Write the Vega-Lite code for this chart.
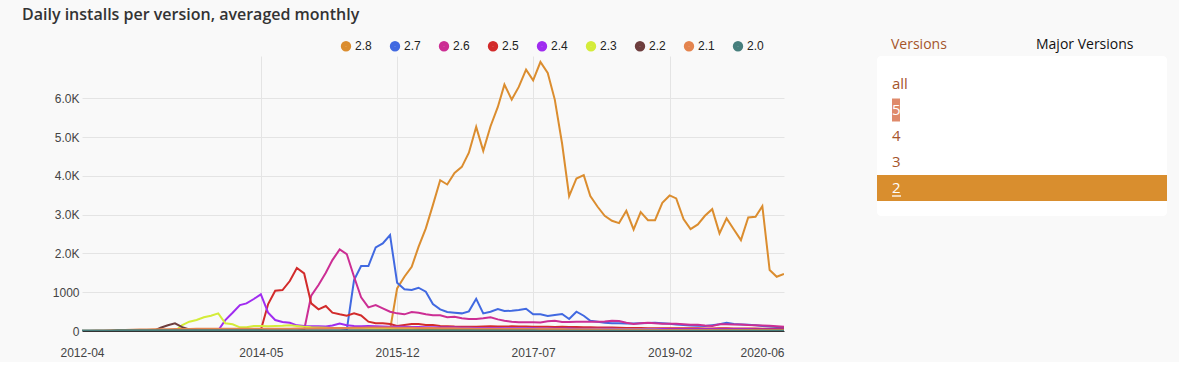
{
"$schema":"https://vega.github.io/schema/vega-lite/v6.json",
"background":"#f9f9f9",
"padding":{"left":22,"top":7,"right":12,"bottom":4},
"title":{"text":"Daily installs per version, averaged monthly","anchor":"start","font":"Open Sans","fontSize":16,"fontWeight":600,"color":"#333333","offset":14},
"datasets":{"installs":[
{"t":"2012-04-01","2.8":0,"2.7":0,"2.6":0,"2.5":0,"2.4":0,"2.3":0,"2.2":0,"2.1":5,"2.0":12},
{"t":"2012-05-01","2.8":0,"2.7":0,"2.6":0,"2.5":0,"2.4":0,"2.3":0,"2.2":0,"2.1":8,"2.0":13},
{"t":"2012-06-01","2.8":0,"2.7":0,"2.6":0,"2.5":0,"2.4":0,"2.3":0,"2.2":0,"2.1":12,"2.0":14},
{"t":"2012-07-01","2.8":0,"2.7":0,"2.6":0,"2.5":0,"2.4":0,"2.3":0,"2.2":0,"2.1":15,"2.0":15},
{"t":"2012-08-01","2.8":0,"2.7":0,"2.6":0,"2.5":0,"2.4":0,"2.3":0,"2.2":0,"2.1":20,"2.0":16},
{"t":"2012-09-01","2.8":0,"2.7":0,"2.6":0,"2.5":0,"2.4":0,"2.3":0,"2.2":0,"2.1":24,"2.0":17},
{"t":"2012-10-01","2.8":0,"2.7":0,"2.6":0,"2.5":0,"2.4":0,"2.3":0,"2.2":0,"2.1":28,"2.0":18},
{"t":"2012-11-01","2.8":0,"2.7":0,"2.6":0,"2.5":0,"2.4":0,"2.3":0,"2.2":0,"2.1":32,"2.0":18},
{"t":"2012-12-01","2.8":0,"2.7":0,"2.6":0,"2.5":0,"2.4":0,"2.3":0,"2.2":0,"2.1":36,"2.0":19},
{"t":"2013-01-01","2.8":0,"2.7":0,"2.6":0,"2.5":0,"2.4":0,"2.3":0,"2.2":0,"2.1":40,"2.0":19},
{"t":"2013-02-01","2.8":0,"2.7":0,"2.6":0,"2.5":0,"2.4":0,"2.3":0,"2.2":10,"2.1":42,"2.0":20},
{"t":"2013-03-01","2.8":0,"2.7":0,"2.6":0,"2.5":0,"2.4":0,"2.3":0,"2.2":85,"2.1":45,"2.0":20},
{"t":"2013-04-01","2.8":0,"2.7":0,"2.6":0,"2.5":0,"2.4":0,"2.3":0,"2.2":150,"2.1":48,"2.0":20},
{"t":"2013-05-01","2.8":0,"2.7":0,"2.6":0,"2.5":0,"2.4":0,"2.3":0,"2.2":200,"2.1":50,"2.0":20},
{"t":"2013-06-01","2.8":0,"2.7":0,"2.6":0,"2.5":0,"2.4":0,"2.3":155,"2.2":100,"2.1":52,"2.0":20},
{"t":"2013-07-01","2.8":0,"2.7":0,"2.6":0,"2.5":0,"2.4":0,"2.3":240,"2.2":40,"2.1":54,"2.0":20},
{"t":"2013-08-01","2.8":0,"2.7":0,"2.6":0,"2.5":0,"2.4":0,"2.3":283,"2.2":25,"2.1":55,"2.0":19},
{"t":"2013-09-01","2.8":0,"2.7":0,"2.6":0,"2.5":0,"2.4":0,"2.3":353,"2.2":20,"2.1":56,"2.0":19},
{"t":"2013-10-01","2.8":0,"2.7":0,"2.6":0,"2.5":0,"2.4":0,"2.3":395,"2.2":18,"2.1":57,"2.0":19},
{"t":"2013-11-01","2.8":0,"2.7":0,"2.6":0,"2.5":0,"2.4":20,"2.3":455,"2.2":17,"2.1":58,"2.0":18},
{"t":"2013-12-01","2.8":0,"2.7":0,"2.6":0,"2.5":0,"2.4":280,"2.3":198,"2.2":15,"2.1":58,"2.0":18},
{"t":"2014-01-01","2.8":0,"2.7":0,"2.6":0,"2.5":0,"2.4":470,"2.3":172,"2.2":15,"2.1":58,"2.0":18},
{"t":"2014-02-01","2.8":0,"2.7":0,"2.6":0,"2.5":0,"2.4":670,"2.3":95,"2.2":15,"2.1":57,"2.0":18},
{"t":"2014-03-01","2.8":0,"2.7":0,"2.6":0,"2.5":0,"2.4":713,"2.3":95,"2.2":15,"2.1":56,"2.0":17},
{"t":"2014-04-01","2.8":0,"2.7":0,"2.6":0,"2.5":0,"2.4":825,"2.3":129,"2.2":15,"2.1":55,"2.0":17},
{"t":"2014-05-01","2.8":0,"2.7":0,"2.6":0,"2.5":25,"2.4":945,"2.3":130,"2.2":15,"2.1":55,"2.0":17},
{"t":"2014-06-01","2.8":0,"2.7":0,"2.6":0,"2.5":695,"2.4":470,"2.3":125,"2.2":15,"2.1":56,"2.0":16},
{"t":"2014-07-01","2.8":0,"2.7":0,"2.6":0,"2.5":1040,"2.4":283,"2.3":130,"2.2":15,"2.1":57,"2.0":16},
{"t":"2014-08-01","2.8":0,"2.7":0,"2.6":0,"2.5":1057,"2.4":232,"2.3":135,"2.2":15,"2.1":58,"2.0":16},
{"t":"2014-09-01","2.8":0,"2.7":0,"2.6":0,"2.5":1289,"2.4":214,"2.3":146,"2.2":15,"2.1":60,"2.0":16},
{"t":"2014-10-01","2.8":0,"2.7":0,"2.6":0,"2.5":1624,"2.4":146,"2.3":130,"2.2":15,"2.1":62,"2.0":15},
{"t":"2014-11-01","2.8":0,"2.7":0,"2.6":25,"2.5":1486,"2.4":130,"2.3":110,"2.2":15,"2.1":64,"2.0":15},
{"t":"2014-12-01","2.8":0,"2.7":0,"2.6":910,"2.5":713,"2.4":125,"2.3":95,"2.2":15,"2.1":66,"2.0":15},
{"t":"2015-01-01","2.8":0,"2.7":0,"2.6":1185,"2.5":558,"2.4":120,"2.3":90,"2.2":15,"2.1":70,"2.0":15},
{"t":"2015-02-01","2.8":0,"2.7":0,"2.6":1503,"2.5":644,"2.4":118,"2.3":85,"2.2":15,"2.1":72,"2.0":15},
{"t":"2015-03-01","2.8":0,"2.7":0,"2.6":1830,"2.5":472,"2.4":140,"2.3":80,"2.2":15,"2.1":75,"2.0":14},
{"t":"2015-04-01","2.8":0,"2.7":0,"2.6":2105,"2.5":430,"2.4":190,"2.3":78,"2.2":15,"2.1":78,"2.0":14},
{"t":"2015-05-01","2.8":0,"2.7":25,"2.6":1985,"2.5":395,"2.4":150,"2.3":75,"2.2":15,"2.1":80,"2.0":14},
{"t":"2015-06-01","2.8":0,"2.7":1315,"2.6":1400,"2.5":455,"2.4":130,"2.3":70,"2.2":15,"2.1":82,"2.0":14},
{"t":"2015-07-01","2.8":0,"2.7":1675,"2.6":870,"2.5":400,"2.4":125,"2.3":68,"2.2":15,"2.1":85,"2.0":14},
{"t":"2015-08-01","2.8":0,"2.7":1675,"2.6":610,"2.5":240,"2.4":128,"2.3":66,"2.2":15,"2.1":88,"2.0":13},
{"t":"2015-09-01","2.8":0,"2.7":2157,"2.6":670,"2.5":198,"2.4":120,"2.3":64,"2.2":12,"2.1":90,"2.0":13},
{"t":"2015-10-01","2.8":0,"2.7":2260,"2.6":585,"2.5":198,"2.4":115,"2.3":62,"2.2":12,"2.1":90,"2.0":13},
{"t":"2015-11-01","2.8":25,"2.7":2474,"2.6":497,"2.5":180,"2.4":112,"2.3":60,"2.2":12,"2.1":88,"2.0":13},
{"t":"2015-12-01","2.8":1100,"2.7":1245,"2.6":455,"2.5":130,"2.4":110,"2.3":58,"2.2":12,"2.1":86,"2.0":13},
{"t":"2016-01-01","2.8":1400,"2.7":1075,"2.6":430,"2.5":155,"2.4":108,"2.3":56,"2.2":12,"2.1":85,"2.0":13},
{"t":"2016-02-01","2.8":1657,"2.7":1057,"2.6":490,"2.5":180,"2.4":105,"2.3":55,"2.2":12,"2.1":83,"2.0":12},
{"t":"2016-03-01","2.8":2170,"2.7":1116,"2.6":472,"2.5":180,"2.4":100,"2.3":54,"2.2":12,"2.1":80,"2.0":12},
{"t":"2016-04-01","2.8":2647,"2.7":1013,"2.6":430,"2.5":155,"2.4":98,"2.3":52,"2.2":12,"2.1":78,"2.0":12},
{"t":"2016-05-01","2.8":3247,"2.7":696,"2.6":405,"2.5":155,"2.4":95,"2.3":50,"2.2":12,"2.1":75,"2.0":12},
{"t":"2016-06-01","2.8":3890,"2.7":559,"2.6":405,"2.5":130,"2.4":92,"2.3":49,"2.2":12,"2.1":72,"2.0":12},
{"t":"2016-07-01","2.8":3780,"2.7":490,"2.6":353,"2.5":125,"2.4":90,"2.3":48,"2.2":12,"2.1":70,"2.0":12},
{"t":"2016-08-01","2.8":4080,"2.7":472,"2.6":370,"2.5":115,"2.4":88,"2.3":47,"2.2":12,"2.1":68,"2.0":12},
{"t":"2016-09-01","2.8":4235,"2.7":455,"2.6":327,"2.5":110,"2.4":85,"2.3":46,"2.2":12,"2.1":65,"2.0":11},
{"t":"2016-10-01","2.8":4600,"2.7":507,"2.6":310,"2.5":108,"2.4":82,"2.3":45,"2.2":12,"2.1":62,"2.0":11},
{"t":"2016-11-01","2.8":5265,"2.7":830,"2.6":310,"2.5":110,"2.4":80,"2.3":44,"2.2":12,"2.1":60,"2.0":11},
{"t":"2016-12-01","2.8":4647,"2.7":455,"2.6":327,"2.5":115,"2.4":78,"2.3":43,"2.2":12,"2.1":58,"2.0":11},
{"t":"2017-01-01","2.8":5283,"2.7":497,"2.6":353,"2.5":120,"2.4":76,"2.3":42,"2.2":12,"2.1":56,"2.0":11},
{"t":"2017-02-01","2.8":5780,"2.7":567,"2.6":300,"2.5":118,"2.4":75,"2.3":42,"2.2":12,"2.1":55,"2.0":10},
{"t":"2017-03-01","2.8":6357,"2.7":515,"2.6":265,"2.5":115,"2.4":74,"2.3":41,"2.2":12,"2.1":53,"2.0":10},
{"t":"2017-04-01","2.8":5970,"2.7":523,"2.6":240,"2.5":120,"2.4":72,"2.3":40,"2.2":12,"2.1":52,"2.0":10},
{"t":"2017-05-01","2.8":6297,"2.7":541,"2.6":224,"2.5":118,"2.4":70,"2.3":40,"2.2":12,"2.1":50,"2.0":10},
{"t":"2017-06-01","2.8":6743,"2.7":575,"2.6":228,"2.5":115,"2.4":70,"2.3":39,"2.2":12,"2.1":49,"2.0":10},
{"t":"2017-07-01","2.8":6469,"2.7":430,"2.6":224,"2.5":110,"2.4":68,"2.3":38,"2.2":12,"2.1":48,"2.0":10},
{"t":"2017-08-01","2.8":6940,"2.7":430,"2.6":220,"2.5":112,"2.4":66,"2.3":38,"2.2":12,"2.1":46,"2.0":9},
{"t":"2017-09-01","2.8":6658,"2.7":387,"2.6":250,"2.5":108,"2.4":65,"2.3":37,"2.2":12,"2.1":45,"2.0":9},
{"t":"2017-10-01","2.8":5970,"2.7":412,"2.6":265,"2.5":105,"2.4":64,"2.3":36,"2.2":12,"2.1":44,"2.0":9},
{"t":"2017-11-01","2.8":4837,"2.7":438,"2.6":235,"2.5":110,"2.4":63,"2.3":36,"2.2":12,"2.1":42,"2.0":9},
{"t":"2017-12-01","2.8":3480,"2.7":309,"2.6":230,"2.5":105,"2.4":62,"2.3":35,"2.2":12,"2.1":41,"2.0":9},
{"t":"2018-01-01","2.8":3935,"2.7":497,"2.6":240,"2.5":100,"2.4":60,"2.3":35,"2.2":12,"2.1":40,"2.0":9},
{"t":"2018-02-01","2.8":4020,"2.7":394,"2.6":240,"2.5":98,"2.4":60,"2.3":34,"2.2":12,"2.1":38,"2.0":9},
{"t":"2018-03-01","2.8":3480,"2.7":265,"2.6":240,"2.5":95,"2.4":58,"2.3":34,"2.2":10,"2.1":37,"2.0":8},
{"t":"2018-04-01","2.8":3205,"2.7":240,"2.6":240,"2.5":92,"2.4":57,"2.3":33,"2.2":10,"2.1":36,"2.0":8},
{"t":"2018-05-01","2.8":2972,"2.7":214,"2.6":245,"2.5":90,"2.4":56,"2.3":33,"2.2":10,"2.1":35,"2.0":8},
{"t":"2018-06-01","2.8":2843,"2.7":198,"2.6":265,"2.5":88,"2.4":55,"2.3":32,"2.2":10,"2.1":34,"2.0":8},
{"t":"2018-07-01","2.8":2783,"2.7":198,"2.6":258,"2.5":85,"2.4":54,"2.3":32,"2.2":10,"2.1":33,"2.0":8},
{"t":"2018-08-01","2.8":3100,"2.7":195,"2.6":214,"2.5":80,"2.4":53,"2.3":31,"2.2":10,"2.1":32,"2.0":8},
{"t":"2018-09-01","2.8":2620,"2.7":195,"2.6":180,"2.5":78,"2.4":52,"2.3":31,"2.2":10,"2.1":31,"2.0":8},
{"t":"2018-10-01","2.8":3067,"2.7":198,"2.6":198,"2.5":75,"2.4":51,"2.3":30,"2.2":10,"2.1":30,"2.0":8},
{"t":"2018-11-01","2.8":2860,"2.7":205,"2.6":215,"2.5":72,"2.4":50,"2.3":30,"2.2":10,"2.1":29,"2.0":7},
{"t":"2018-12-01","2.8":2860,"2.7":210,"2.6":200,"2.5":70,"2.4":50,"2.3":30,"2.2":10,"2.1":28,"2.0":7},
{"t":"2019-01-01","2.8":3307,"2.7":200,"2.6":185,"2.5":70,"2.4":49,"2.3":29,"2.2":10,"2.1":27,"2.0":7},
{"t":"2019-02-01","2.8":3497,"2.7":190,"2.6":185,"2.5":68,"2.4":48,"2.3":29,"2.2":10,"2.1":27,"2.0":7},
{"t":"2019-03-01","2.8":3420,"2.7":165,"2.6":190,"2.5":70,"2.4":47,"2.3":29,"2.2":10,"2.1":26,"2.0":7},
{"t":"2019-04-01","2.8":2887,"2.7":155,"2.6":175,"2.5":72,"2.4":46,"2.3":28,"2.2":10,"2.1":25,"2.0":7},
{"t":"2019-05-01","2.8":2630,"2.7":145,"2.6":162,"2.5":70,"2.4":46,"2.3":28,"2.2":10,"2.1":25,"2.0":7},
{"t":"2019-06-01","2.8":2750,"2.7":135,"2.6":160,"2.5":68,"2.4":45,"2.3":28,"2.2":10,"2.1":24,"2.0":7},
{"t":"2019-07-01","2.8":2972,"2.7":130,"2.6":140,"2.5":65,"2.4":45,"2.3":27,"2.2":10,"2.1":23,"2.0":6},
{"t":"2019-08-01","2.8":3144,"2.7":150,"2.6":130,"2.5":65,"2.4":44,"2.3":27,"2.2":10,"2.1":23,"2.0":6},
{"t":"2019-09-01","2.8":2518,"2.7":172,"2.6":172,"2.5":70,"2.4":44,"2.3":27,"2.2":10,"2.1":22,"2.0":6},
{"t":"2019-10-01","2.8":2905,"2.7":214,"2.6":172,"2.5":68,"2.4":43,"2.3":26,"2.2":10,"2.1":22,"2.0":6},
{"t":"2019-11-01","2.8":2620,"2.7":180,"2.6":170,"2.5":66,"2.4":43,"2.3":26,"2.2":10,"2.1":21,"2.0":6},
{"t":"2019-12-01","2.8":2345,"2.7":170,"2.6":165,"2.5":65,"2.4":42,"2.3":26,"2.2":10,"2.1":21,"2.0":6},
{"t":"2020-01-01","2.8":2930,"2.7":160,"2.6":155,"2.5":63,"2.4":42,"2.3":26,"2.2":10,"2.1":20,"2.0":6},
{"t":"2020-02-01","2.8":2946,"2.7":150,"2.6":150,"2.5":62,"2.4":41,"2.3":25,"2.2":10,"2.1":20,"2.0":6},
{"t":"2020-03-01","2.8":3222,"2.7":130,"2.6":145,"2.5":60,"2.4":41,"2.3":25,"2.2":10,"2.1":19,"2.0":5},
{"t":"2020-04-01","2.8":1572,"2.7":115,"2.6":137,"2.5":60,"2.4":40,"2.3":25,"2.2":10,"2.1":19,"2.0":5},
{"t":"2020-05-01","2.8":1400,"2.7":105,"2.6":125,"2.5":58,"2.4":40,"2.3":25,"2.2":10,"2.1":18,"2.0":5},
{"t":"2020-06-01","2.8":1470,"2.7":95,"2.6":110,"2.5":55,"2.4":39,"2.3":25,"2.2":10,"2.1":18,"2.0":5}
],
"menu":[
{"tab":"Versions","item":"all"},
{"tab":"Versions","item":"5"},
{"tab":"Versions","item":"4"},
{"tab":"Versions","item":"3"},
{"tab":"Versions","item":"2"}
]},
"spacing":93,
"align":"none",
"resolve":{"scale":{"color":"independent"},"legend":{"color":"independent"}},
"hconcat":[
{
"width":702,"height":275,
"data":{"name":"installs"},
"transform":[{"fold":["2\\.8","2\\.7","2\\.6","2\\.5","2\\.4","2\\.3","2\\.2","2\\.1","2\\.0"],"as":["version","installs"]}],
"mark":{"type":"line","strokeWidth":2,"clip":true},
"encoding":{
"x":{"field":"t","type":"temporal",
"scale":{"type":"utc","domain":[{"year":2012,"month":4,"date":1,"utc":true},{"year":2020,"month":6,"date":1,"utc":true}]},
"axis":{"title":null,"grid":true,"domain":true,"domainColor":"#333333","ticks":false,"labelPadding":16,
"labelExpr":"utcFormat(datum.value, '%Y-%m')",
"values":[{"year":2012,"month":4,"date":1,"utc":true},{"year":2014,"month":5,"date":1,"utc":true},{"year":2015,"month":12,"date":1,"utc":true},{"year":2017,"month":7,"date":1,"utc":true},{"year":2019,"month":2,"date":1,"utc":true},{"year":2020,"month":6,"date":1,"utc":true}],
"labelAlign":{"condition":{"test":"utcyear(datum.value) == 2020","value":"right"},"value":"center"},
"gridOpacity":{"condition":{"test":"utcyear(datum.value) == 2012 || utcyear(datum.value) == 2020","value":0},"value":1}}},
"y":{"field":"installs","type":"quantitative","scale":{"domain":[0,7095],"nice":false},
"axis":{"title":null,"values":[0,1000,2000,3000,4000,5000,6000],"grid":true,"domain":false,"ticks":false,"labelPadding":3,"minExtent":60,"maxExtent":60,
"labelExpr":"datum.value >= 2000 ? format(datum.value/1000, '.1f') + 'K' : format(datum.value, 'd')"}},
"color":{"field":"version","type":"nominal",
"scale":{"domain":["2.8","2.7","2.6","2.5","2.4","2.3","2.2","2.1","2.0"],"range":["#db8d2f","#4169e1","#cc2e94","#d22b2b","#a02cf0","#d4ec3a","#6e3e3e","#e4844e","#477f7d"]},
"legend":{"orient":"none","legendX":258,"legendY":-16,"direction":"horizontal","title":null,"symbolType":"circle","symbolSize":24,"symbolStrokeWidth":5.5,"labelFont":"Liberation Sans","labelFontSize":12,"labelColor":"#222222","labelOffset":3,"columnPadding":9,"padding":0,
"encode":{"symbols":{"update":{"strokeWidth":{"value":5.5},"size":{"value":24}}}}}}
}
},
{
"width":290,"height":160,
"view":{"fill":"white","stroke":null,"cornerRadius":4},
"data":{"name":"menu"},
"layer":[
{"transform":[{"filter":"datum.item == '2'"}],
"mark":{"type":"rect","color":"#d98e2e"},
"encoding":{"y":{"field":"item","type":"nominal","scale":{"domain":["all","5","4","3","2"],"paddingInner":0,"paddingOuter":0.577},"axis":null}}},
{"transform":[{"filter":"datum.item == '5'"}],
"mark":{"type":"rect","color":"#df8a6b","width":8,"height":23,"xOffset":-53.5},
"encoding":{"x":{"field":"tab","type":"nominal"},"y":{"field":"item","type":"nominal"}}},
{"transform":[{"filter":"datum.item == '2'"}],
"mark":{"type":"rect","color":"white","width":9,"height":1.3,"xOffset":-53,"yOffset":8},
"encoding":{"x":{"field":"tab","type":"nominal"},"y":{"field":"item","type":"nominal"}}},
{"mark":{"type":"text","align":"left","baseline":"middle","dx":15,"font":"Open Sans","fontSize":15},
"encoding":{
"x":{"field":"tab","type":"nominal","bandPosition":0,
"scale":{"domain":["Versions","Major Versions"],"paddingInner":0,"paddingOuter":0},
"axis":{"orient":"top","title":null,"labelAlign":"left","labelBaseline":"bottom","labelOffset":-58.5,"labelPadding":5,"labelAngle":0,"labelFont":"Open Sans","labelFontSize":14,"domain":false,"ticks":false,"grid":false,
"labelColor":{"condition":{"test":"datum.value == 'Versions'","value":"#a5552b"},"value":"#111111"}}},
"y":{"field":"item","type":"nominal"},
"text":{"field":"item"},
"color":{"condition":{"test":"datum.item == '2' || datum.item == '5'","value":"white"},"value":"#a5552b"}
}}
]
}
],
"config":{
"view":{"stroke":null},
"axis":{"labelFont":"Liberation Sans","labelFontSize":12,"labelColor":"#444444","gridColor":"#e4e4e4","ticks":false}
}
}
